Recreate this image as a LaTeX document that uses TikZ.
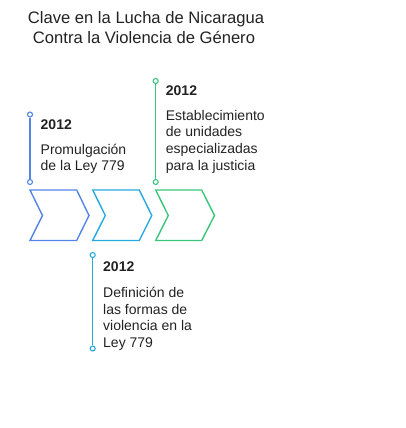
\documentclass[tikz,border=0pt]{standalone}
\usepackage{fontspec}
\setmainfont{Liberation Sans}
\definecolor{cblue}{RGB}{84,132,232}
\definecolor{ccyan}{RGB}{38,170,222}
\definecolor{cgreen}{RGB}{58,198,124}
\definecolor{ctext}{RGB}{34,34,34}
\tikzset{
  chev/.style={line width=1.4pt, line join=miter},
  stem/.style={line width=1.4pt},
  dot/.style={circle, draw, fill=white, line width=1.1pt, minimum size=5pt, inner sep=0pt},
  body/.style={anchor=base west, inner sep=0pt, text=ctext, font=\fontsize{14}{16.7}\selectfont},
  year/.style={body, font=\fontsize{14}{16.7}\selectfont\bfseries},
  ttl/.style={anchor=base, inner sep=0pt, text=ctext, font=\fontsize{16.6}{20}\selectfont}
}
\begin{document}
\begin{tikzpicture}[x=1pt,y=-1pt]
\useasboundingbox (0,0) rectangle (406,428);
% title
\node[ttl] (t1) at (146,23.3) {Clave en la Lucha de Nicaragua};
\node[ttl] (t2) at (144,43.3) {Contra la Violencia de Género};
% chevrons
\draw[chev, cblue] (30,190) -- (76.7,190) -- (89,215.5) -- (76.7,240.5) -- (30,240.5) -- (42.5,215.5) -- cycle;
\draw[chev, ccyan] (92.7,190) -- (139.3,190) -- (151.8,215.5) -- (139.3,240.5) -- (92.7,240.5) -- (105.3,215.5) -- cycle;
\draw[chev, cgreen] (155.7,190) -- (201.7,190) -- (214.5,215.5) -- (201.7,240.5) -- (155.7,240.5) -- (168.3,215.5) -- cycle;
% stems
\node[dot, draw=cblue] (a1) at (30,114.5) {};
\node[dot, draw=cblue] (a2) at (30,182) {};
\draw[stem, cblue] (a1) -- (a2);
\node[dot, draw=cgreen] (c1) at (155.7,81) {};
\node[dot, draw=cgreen] (c2) at (155.7,182) {};
\draw[stem, cgreen] (c1) -- (c2);
\node[dot, draw=ccyan] (b1) at (92.7,255) {};
\node[dot, draw=ccyan] (b2) at (92.7,348.5) {};
\draw[stem, ccyan] (b1) -- (b2);
% event 1
\node[year] (y1) at (40.5,129) {2012};
\node[body] (e1a) at (40.5,154) {Promulgación};
\node[body] (e1b) at (40.5,170.7) {de la Ley 779};
% event 3
\node[year] (y3) at (165.7,95.7) {2012};
\node[body] (e3a) at (165.7,120) {Establecimiento};
\node[body] (e3b) at (165.7,136.7) {de unidades};
\node[body] (e3c) at (165.7,153.3) {especializadas};
\node[body] (e3d) at (165.7,170) {para la justicia};
% event 2
\node[year] (y2) at (103,271) {2012};
\node[body] (e2a) at (103,297.3) {Definición de};
\node[body] (e2b) at (103,314) {las formas de};
\node[body] (e2c) at (103,330.7) {violencia en la};
\node[body] (e2d) at (103,347) {Ley 779};
\end{tikzpicture}
\end{document}
